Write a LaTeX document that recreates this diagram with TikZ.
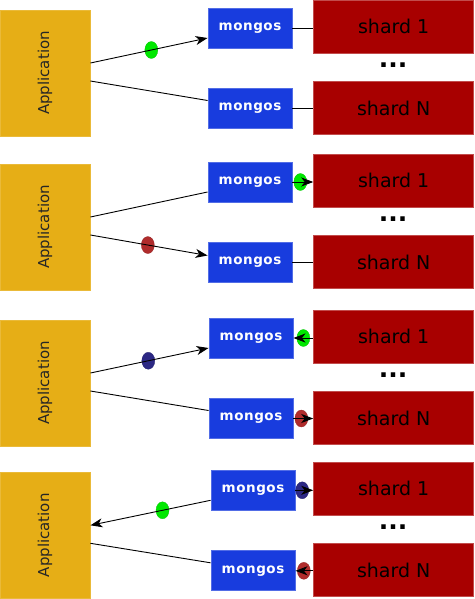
\documentclass[tikz,border=0pt]{standalone}
\usepackage{fontspec}
\setmainfont{DejaVu Sans}
\newfontfamily\mongosschrift[LetterSpace=4]{DejaVu Sans Bold}
\usetikzlibrary{arrows.meta,shapes.geometric}

\definecolor{appgelb}{RGB}{230,174,22}
\definecolor{mblau}{RGB}{24,60,222}
\definecolor{srot}{RGB}{168,0,0}
\definecolor{pgruen}{RGB}{0,232,0}
\definecolor{prot}{RGB}{176,44,44}
\definecolor{pblau}{RGB}{44,40,132}

\begin{document}
\begin{tikzpicture}[x=1pt,y=-1pt,>={Stealth[length=12pt,width=9pt,inset=3.5pt]},line width=.9pt,
  app/.style={fill=appgelb,draw=appgelb!85!white,minimum width=90pt,minimum height=126pt,inner sep=0pt,
    text=black!85,font=\fontsize{15}{18}\selectfont},
  mongos/.style={fill=mblau,draw=mblau!75!white,minimum width=84pt,minimum height=40pt,inner sep=0pt,
    text=white,font=\fontsize{13.5}{16}\mongosschrift},
  shard/.style={fill=srot,draw=srot!70!white,minimum width=160pt,minimum height=53pt,inner sep=0pt,
    font=\fontsize{19}{22}\selectfont},
  paket/.style={ellipse,fill=#1,draw=#1!85!black,line width=.3pt,minimum width=13pt,minimum height=17pt,
    inner sep=0pt,behind path}]
  \useasboundingbox (0,0) rectangle (474,599);
  % Kaesten
  \foreach \i/\oy/\mx in {1/0/208,2/154/208,3/310/209,4/462.3/211} {
    \node[app] (A\i) at (45,\oy+73) {\rotatebox{90}{Application}};
    \node[mongos] (M\i) at (\mx+42,\oy+28) {mongos};
    \node[mongos] (MN\i) at (\mx+42,\oy+108.5) {mongos};
    \node[shard] (S\i) at (393.7,\oy+26.5) {shard 1};
    \node[shard] (SN\i) at (393.7,\oy+108) {shard N};
    \node[anchor=base,font=\fontsize{25}{28}\selectfont\bfseries] (D\i) at (393,\oy+67.5) {...};
  }
  % Abfrage an shard 1
  \draw[->] ([yshift=10pt]A1.east) -- node[paket=pgruen,pos=.52] (p1) {} ([yshift=-10pt]M1.west);
  \draw ([yshift=-8pt]A1.east) -- ([yshift=8pt]MN1.west);
  \draw (M1.east) -- (M1.east -| S1.west);
  \draw (MN1.east) -- (MN1.east -| SN1.west);
  % zweiter Schritt
  \draw ([yshift=10pt]A2.east) -- ([yshift=-10pt]M2.west);
  \draw[->] ([yshift=-8pt]A2.east) -- node[paket=prot,pos=.49] (p2) {} ([yshift=7pt]MN2.west);
  \draw[->] (M2.east) -- node[paket=pgruen,pos=.38] (q2) {} (M2.east -| S2.west);
  \draw (MN2.east) -- (MN2.east -| SN2.west);
  % dritter Schritt
  \draw[->] ([yshift=10pt]A3.east) -- node[paket=pblau,pos=.49] (p3) {} ([yshift=-10pt]M3.west);
  \draw ([yshift=-8pt]A3.east) -- ([yshift=8pt]MN3.west);
  \draw[<-] (M3.east) -- node[paket=pgruen,pos=.5] (q3) {} (M3.east -| S3.west);
  \draw[->] (MN3.east) -- node[paket=prot,pos=.4] (r3) {} (MN3.east -| SN3.west);
  % Antwort
  \draw[<-] ([yshift=10pt]A4.east) -- node[paket=pgruen,pos=.6] (p4) {} ([yshift=-10pt]M4.west);
  \draw ([yshift=-8pt]A4.east) -- ([yshift=8pt]MN4.west);
  \draw[->] (M4.east) -- node[paket=pblau,pos=.38] (q4) {} (M4.east -| S4.west);
  \draw[<-] (MN4.east) -- node[paket=prot,pos=.47] (r4) {} (MN4.east -| SN4.west);
\end{tikzpicture}
\end{document}
